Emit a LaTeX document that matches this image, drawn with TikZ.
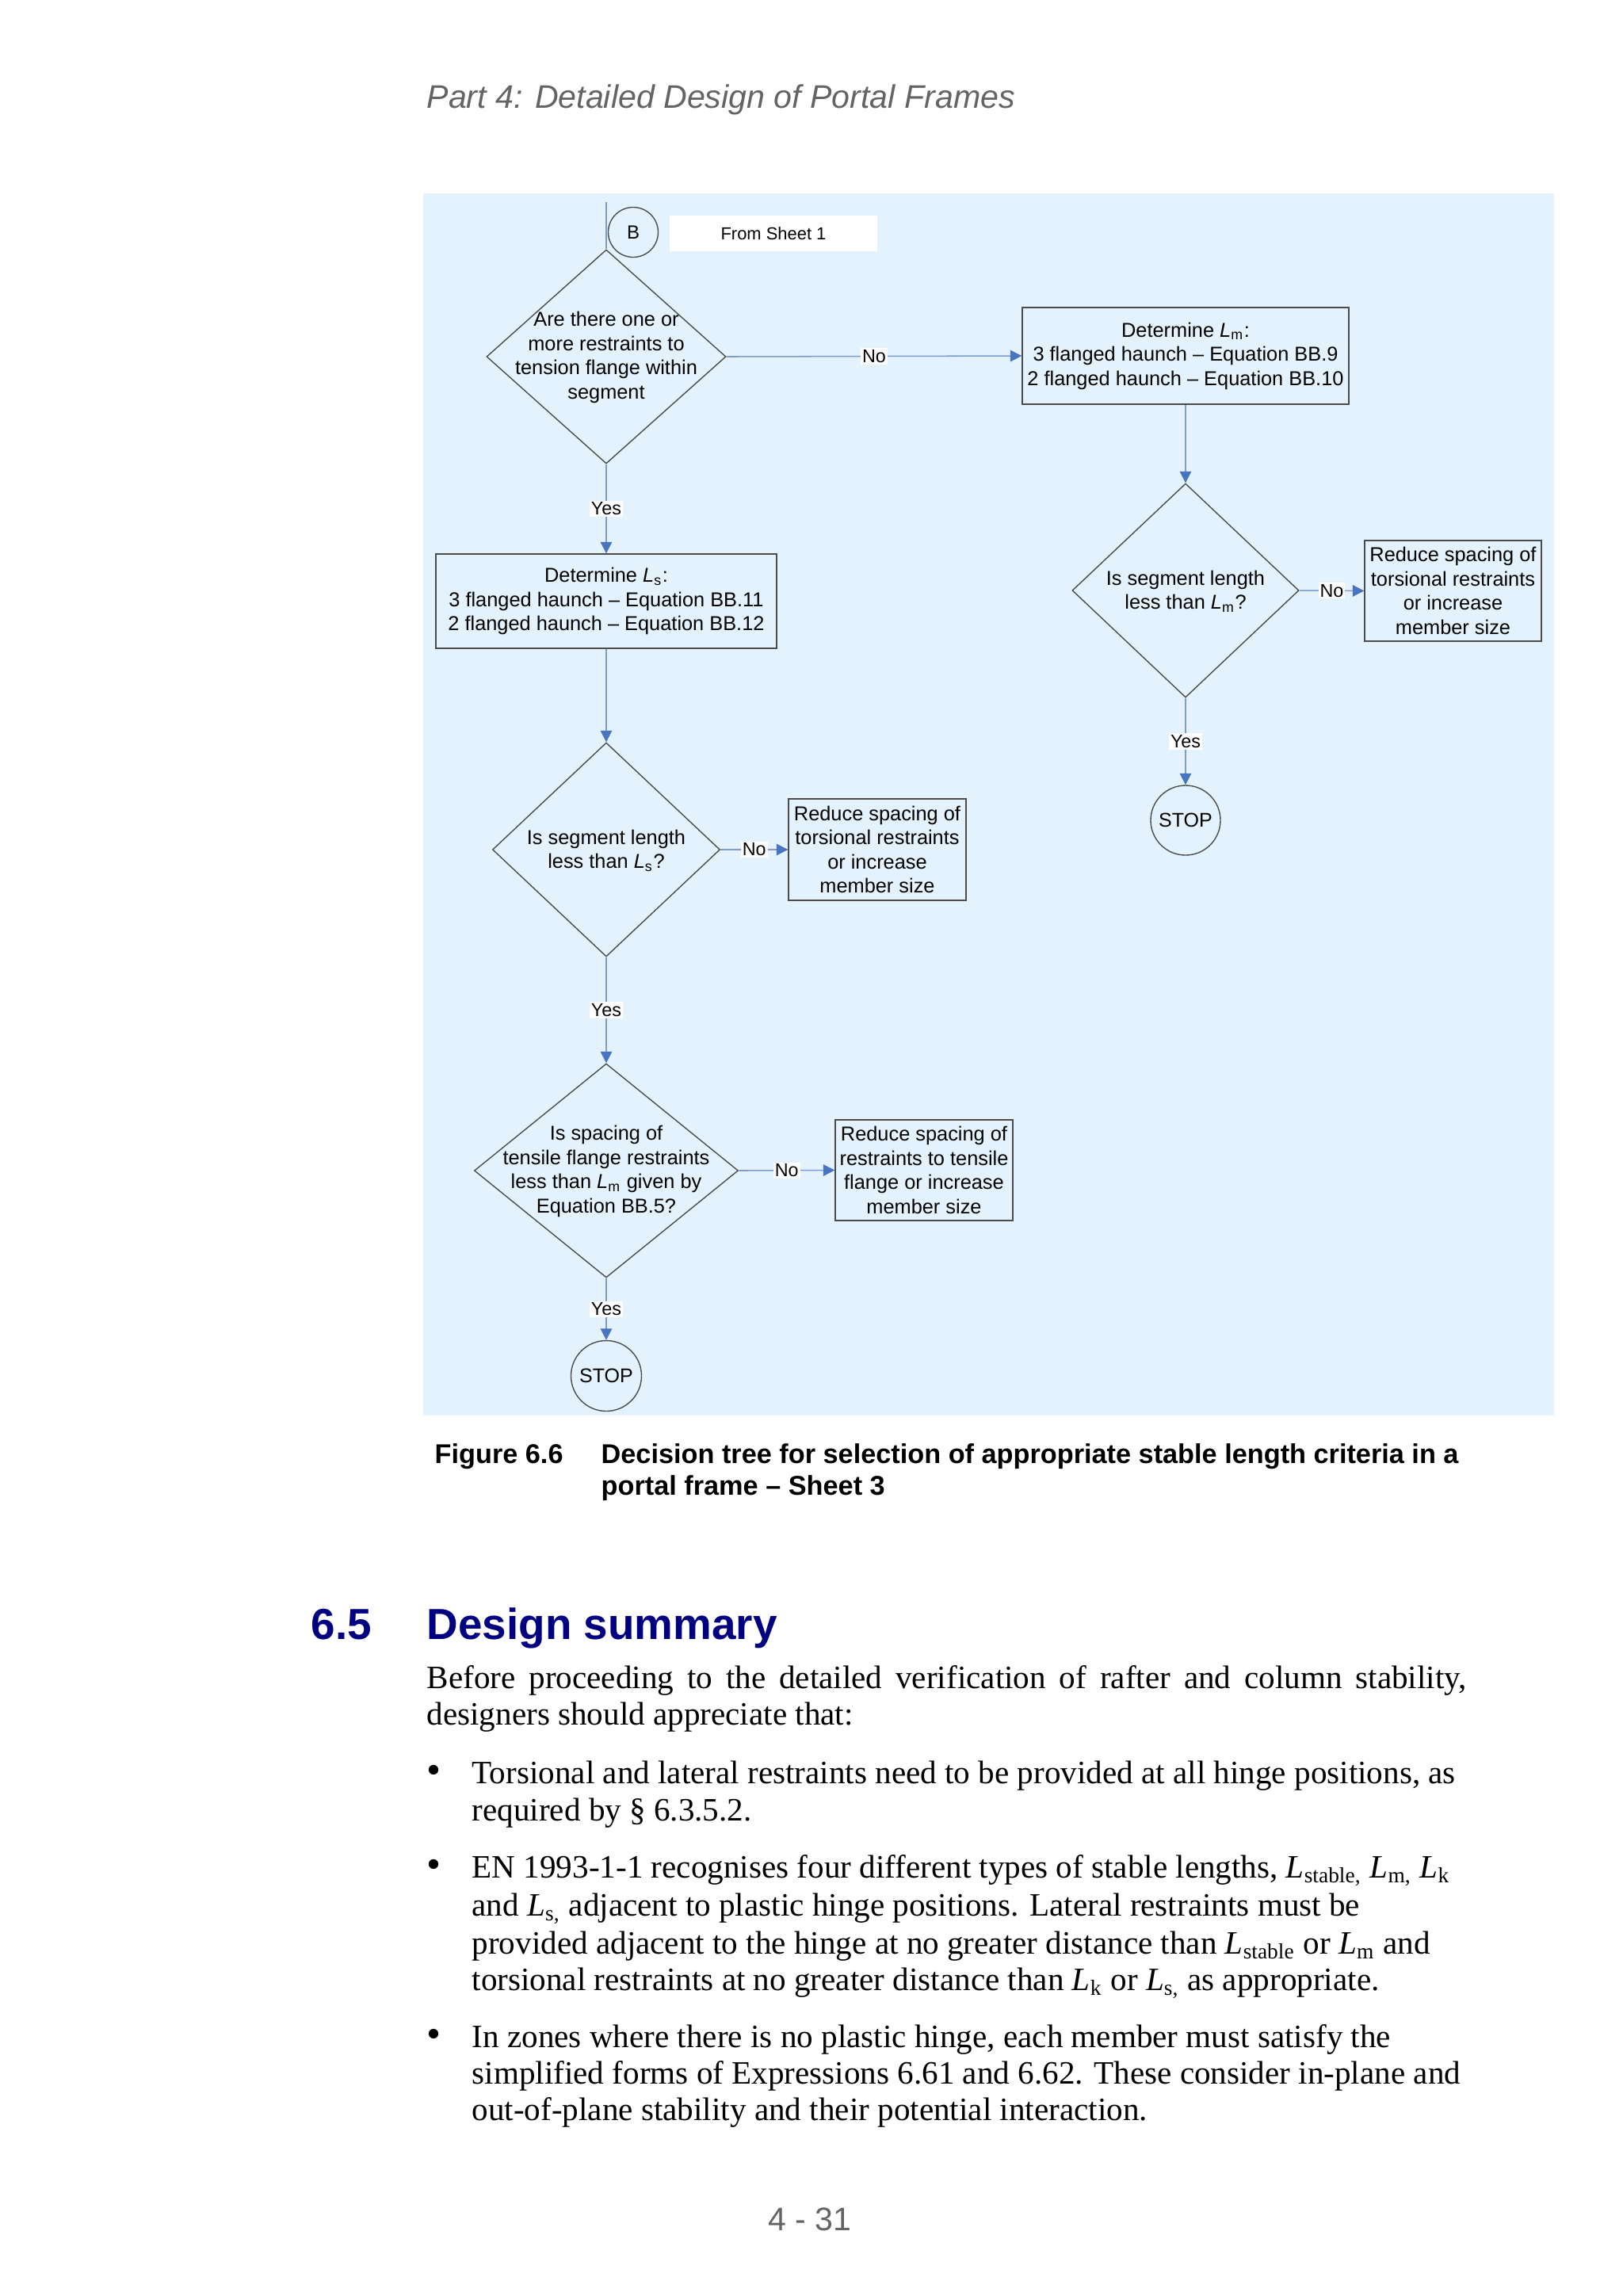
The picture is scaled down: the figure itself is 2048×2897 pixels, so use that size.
\documentclass[tikz,border=0pt]{standalone}
\usepackage{fontspec}
\setmainfont{Liberation Serif}
\setsansfont{Liberation Sans}
\usetikzlibrary{shapes.geometric,arrows.meta}
\definecolor{bgblue}{RGB}{227,242,252}
\definecolor{conncol}{RGB}{125,155,205}
\definecolor{tipcol}{RGB}{72,116,192}
\definecolor{bordercol}{RGB}{75,75,75}
\definecolor{headgray}{RGB}{100,100,100}
\definecolor{navyhead}{RGB}{0,0,128}
\newcommand\pxu{0.0102539cm}
\newcommand\Lsb[1]{\textit{L}\textsubscript{#1}}
\begin{document}
\begin{tikzpicture}[x=0.0102539cm,y=-0.0102539cm,
  dfont/.style={font=\fontsize{7.4}{8.9}\selectfont\sffamily},
  lblfont/.style={font=\fontsize{6.8}{8}\selectfont\sffamily},
  decision/.style={diamond, draw=bordercol, line width=0.4pt, inner sep=0pt},
  procbox/.style={rectangle, draw=bordercol, line width=0.4pt, inner sep=0pt, align=center, dfont},
  termcirc/.style={circle, draw=bordercol, line width=0.4pt, inner sep=0pt, font=\fontsize{7.3}{8}\selectfont\sffamily},
  conn/.style={draw=conncol, line width=0.45pt},
  arr/.style={conn, -{Triangle[length=4.2pt,width=4.2pt,color=tipcol]}},
  lbl/.style={midway, fill=white, inner sep=0.6pt, lblfont},
  body/.style={anchor=base west, inner sep=0pt, font=\fontsize{12}{14}\selectfont},
  bodybul/.style={anchor=base, inner sep=0pt, font=\fontsize{15}{15}\selectfont}
]
\useasboundingbox (0,0) rectangle (2048,2897);

% header
\node[anchor=base west, inner sep=0pt, font=\fontsize{12}{14}\selectfont\sffamily\itshape, text=headgray] (hdr) at (538,136) {Part 4: Detailed Design of Portal Frames};

% diagram background
\fill[bgblue] (534,244) rectangle (1961,1786);

% From sheet 1
\node[fill=white, minimum width={262*\pxu}, minimum height={45*\pxu}, inner sep=0pt, font=\fontsize{6.4}{7.5}\selectfont\sffamily] (from) at (976,294.5) {From Sheet 1};
\node[termcirc, minimum size={63*\pxu}, font=\fontsize{7}{8}\selectfont\sffamily] (B) at (799,293) {B};
\coordinate (topin) at (765,255);

% left column
\node[decision, minimum width={302*\pxu}, minimum height={270*\pxu}] (d1) at (765,450) {};
\node[dfont, align=center, inner sep=0pt] (d1t) at (765,451) {Are there one or\\more restraints to\\tension flange within\\segment};

\node[procbox, minimum width={430*\pxu}, minimum height={119*\pxu}] (ls) at (765,758.5) {Determine \Lsb{s}:\\3 flanged haunch -- Equation BB.11\\2 flanged haunch -- Equation BB.12};

\node[decision, minimum width={287*\pxu}, minimum height={270*\pxu}] (d3) at (765,1072) {};
\node[dfont, align=center, inner sep=0pt] (d3t) at (765,1073) {Is segment length\\less than \Lsb{s}?};

\node[procbox, minimum width={224*\pxu}, minimum height={128*\pxu}] (r3) at (1107,1072) {Reduce spacing of\\torsional restraints\\or increase\\member size};

\node[decision, minimum width={333*\pxu}, minimum height={270*\pxu}] (d4) at (765,1477) {};
\node[dfont, align=center, inner sep=0pt] (d4t) at (765,1478) {Is spacing of\\tensile flange restraints\\less than \Lsb{m} given by\\Equation BB.5?};

\node[procbox, minimum width={224*\pxu}, minimum height={127*\pxu}] (r4) at (1166,1476.5) {Reduce spacing of\\restraints to tensile\\flange or increase\\member size};

\node[termcirc, minimum size={89*\pxu}] (stop1) at (765,1736) {STOP};

% right column
\node[procbox, minimum width={412*\pxu}, minimum height={122*\pxu}] (lm) at (1496,449) {Determine \Lsb{m}:\\3 flanged haunch -- Equation BB.9\\2 flanged haunch -- Equation BB.10};

\node[decision, minimum width={286*\pxu}, minimum height={270*\pxu}] (d2) at (1496,745) {};
\node[dfont, align=center, inner sep=0pt] (d2t) at (1496,746) {Is segment length\\less than \Lsb{m}?};

\node[procbox, minimum width={223*\pxu}, minimum height={127*\pxu}] (r2) at (1833.5,745.5) {Reduce spacing of\\torsional restraints\\or increase\\member size};

\node[termcirc, minimum size={88*\pxu}] (stop2) at (1496,1035) {STOP};

% connectors
\draw[conn] (topin) -- (d1.north);
\draw[arr] (d1.east) -- node[lbl] {No} (lm.west);
\draw[arr] (d1.south) -- node[lbl] {Yes} (ls.north);
\draw[arr] (lm.south) -- (d2.north);
\draw[arr] (d2.east) -- node[lbl] {No} (r2.west);
\draw[arr] (d2.south) -- node[lbl] {Yes} (stop2.north);
\draw[arr] (ls.south) -- (d3.north);
\draw[arr] (d3.east) -- node[lbl] {No} (r3.west);
\draw[arr] (d3.south) -- node[lbl] {Yes} (d4.north);
\draw[arr] (d4.east) -- node[lbl] {No} (r4.west);
\draw[arr] (d4.south) -- node[lbl] {Yes} (stop1.north);

% caption
\node[anchor=base west, inner sep=0pt, font=\fontsize{10}{12}\selectfont\sffamily\bfseries] (capA) at (548,1846) {Figure 6.6};
\node[anchor=base west, inner sep=0pt, font=\fontsize{10}{12}\selectfont\sffamily\bfseries] (capB) at (758,1846) {Decision tree for selection of appropriate stable length criteria in a};
\node[anchor=base west, inner sep=0pt, font=\fontsize{10}{12}\selectfont\sffamily\bfseries] (capC) at (758,1886) {portal frame -- Sheet 3};

% section heading
\node[anchor=base west, inner sep=0pt, font=\fontsize{16}{19}\selectfont\sffamily\bfseries, text=navyhead] (secn) at (392,2068) {6.5};
\node[anchor=base west, inner sep=0pt, font=\fontsize{16}{19}\selectfont\sffamily\bfseries, text=navyhead] (sect) at (538,2068) {Design summary};

% body
\node[body] (p1) at (538,2130) {\makebox[13.453cm][s]{Before proceeding to the detailed verification of rafter and column stability,}};
\node[body] (p2) at (538,2176) {designers should appreciate that:};

\node[bodybul] (b1) at (547,2250) {\textbullet};
\node[body] (b1a) at (595,2250) {Torsional and lateral restraints need to be provided at all hinge positions, as};
\node[body] (b1b) at (595,2297) {required by \S\ 6.3.5.2.};

\node[bodybul] (b2) at (547,2369) {\textbullet};
\node[body] (b2a) at (595,2369) {EN 1993-1-1 recognises four different types of stable lengths, \Lsb{stable,} \Lsb{m,} \Lsb{k}};
\node[body] (b2b) at (595,2417) {and \Lsb{s,} adjacent to plastic hinge positions. Lateral restraints must be};
\node[body] (b2c) at (595,2465) {provided adjacent to the hinge at no greater distance than \Lsb{stable} or \Lsb{m} and};
\node[body] (b2d) at (595,2511) {torsional restraints at no greater distance than \Lsb{k} or \Lsb{s,} as appropriate.};

\node[bodybul] (b3) at (547,2583) {\textbullet};
\node[body] (b3a) at (595,2583) {In zones where there is no plastic hinge, each member must satisfy the};
\node[body] (b3b) at (595,2629) {simplified forms of Expressions 6.61 and 6.62. These consider in-plane and};
\node[body] (b3c) at (595,2675) {out-of-plane stability and their potential interaction.};

% page number
\node[anchor=base, inner sep=0pt, font=\fontsize{12}{14}\selectfont\sffamily, text=headgray] (pg) at (1022,2814) {4 - 31};
\end{tikzpicture}
\end{document}
